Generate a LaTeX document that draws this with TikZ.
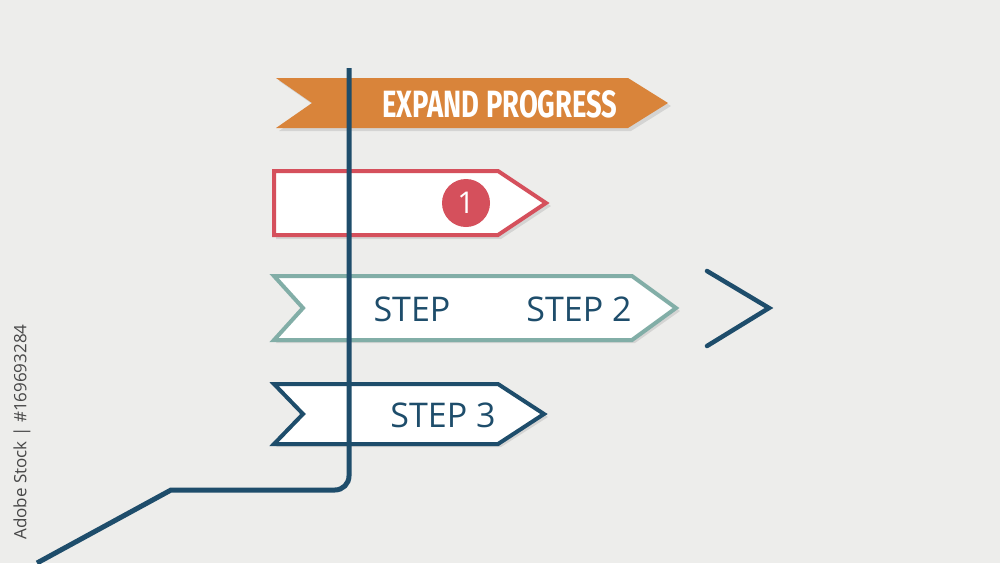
\documentclass[tikz,border=0pt]{standalone}
\usepackage{fontspec}
\setmainfont{Open Sans}
\newfontfamily\bannerfont[FakeStretch=0.72]{Fira Sans}
\usetikzlibrary{positioning}
\definecolor{wall}{HTML}{EDEDEB}
\definecolor{flagorange}{HTML}{D9843A}
\definecolor{signred}{HTML}{D5505C}
\definecolor{signteal}{HTML}{82AEA7}
\definecolor{navy}{HTML}{1E4D6B}
\tikzset{
    x=1pt, y=-1pt,
    banner/.style={fill=flagorange, draw=none}, % the orange flag
    signbox/.style={fill=white, line width=4pt, line join=miter},
    signshadow/.style={fill=black, opacity=0.10, draw=none},
    pole/.style={draw=navy, line width=5pt, rounded corners=14pt},
    steptext/.style={text=navy, font=\fontsize{34}{34}\selectfont},
}

\begin{document}
\begin{tikzpicture}
    % Sfondo
    \fill[wall] (0,0) rectangle (1000,563);
    \useasboundingbox (0,0) rectangle (1000,563);

    % Bandiera
    \fill[signshadow] (279,81) -- (631,81) -- (671,106) -- (631,131) -- (279,131) -- (315,106) -- cycle;
    \fill[banner] (276,78) -- (628,78) -- (668,103) -- (628,128) -- (276,128) -- (312,103) -- cycle;
    \node[text=white, font=\bannerfont\bfseries\fontsize{38}{38}\selectfont] (expand) at (500,104) {EXPAND PROGRESS};

    % Cartelli
    \fill[signshadow] (276,173) -- (501,173) -- (551,206) -- (501,239) -- (276,239) -- cycle;
    \draw[signbox, draw=signred] (274,171) -- (498,171) -- (546,203) -- (498,235) -- (274,235) -- cycle;
    \node[circle, fill=signred, minimum size=48pt, inner sep=0pt, text=white,
          font=\fontsize{30}{30}\selectfont] (one) at (466,203) {1};

    \fill[signshadow] (276,279) -- (635,279) -- (680,311) -- (635,343) -- (276,343) -- (306,311) -- cycle;
    \draw[signbox, draw=signteal] (274,276) -- (632,276) -- (676,308) -- (632,340) -- (274,340) -- (303,308) -- cycle;
    \node[steptext] (step) at (412,309) {STEP};
    \node[steptext] (steptwo) at (579,309) {STEP 2};

    \fill[signshadow] (276,387) -- (501,387) -- (548,417) -- (501,447) -- (276,447) -- (306,417) -- cycle;
    \draw[signbox, draw=navy] (274,384) -- (498,384) -- (544,414) -- (498,444) -- (274,444) -- (303,414) -- cycle;
    \node[steptext] (stepthree) at (443,415) {STEP 3};

    % Freccia
    \coordinate (chevtop) at (707,271);
    \coordinate (chevtip) at (769,308);
    \coordinate (chevbot) at (707,346);
    \draw[navy, line width=4.5pt, line cap=round] (chevtop) -- (chevtip) -- (chevbot);

    % Palo
    \coordinate (poletop) at (349,68);
    \coordinate (polecorner) at (349,490);
    \coordinate (polebend) at (171,490);
    \coordinate (poleend) at (37,563);
    \draw[pole] (poletop) -- (polecorner) [sharp corners] -- (polebend) -- (poleend);

    % Didascalia
    \node[rotate=90, text=black!72, font=\fontsize{17}{17}\selectfont] (credit) at (22,432) {Adobe Stock | \#169693284};
\end{tikzpicture}
\end{document}
